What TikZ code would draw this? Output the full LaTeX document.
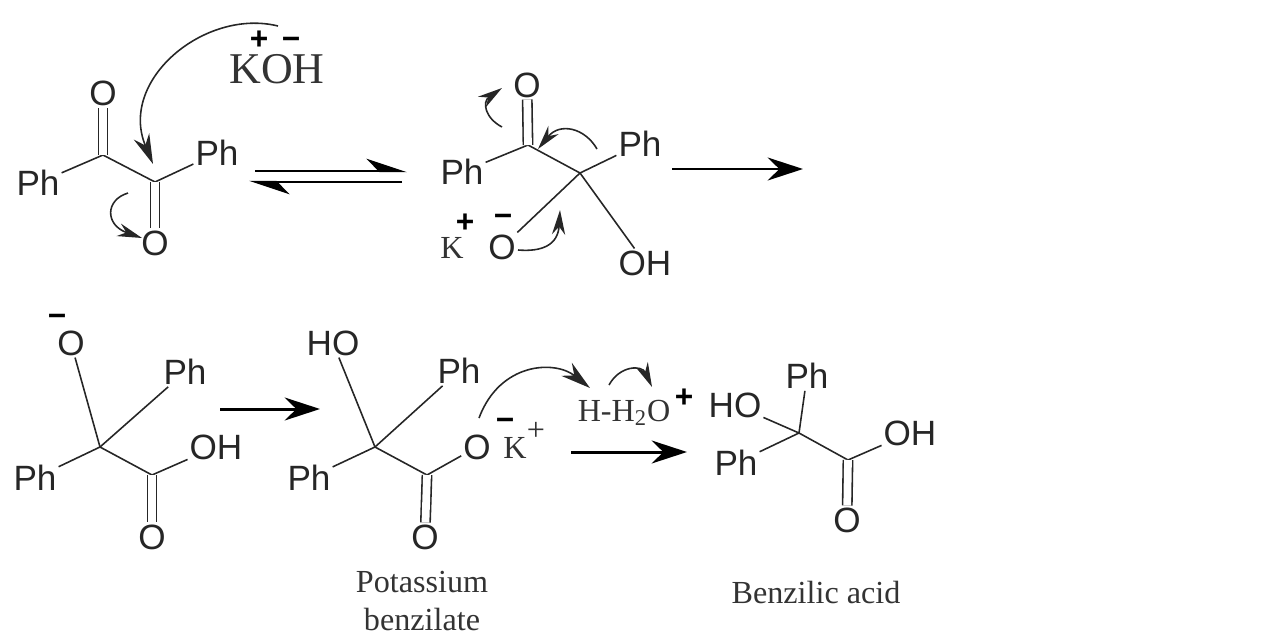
\documentclass[tikz,border=0pt]{standalone}
\usepackage{fontspec}
\setmainfont{Liberation Serif}
\newfontfamily\chemfont{Liberation Sans}
\usetikzlibrary{arrows.meta}
\tikzset{
    atom/.style={font=\chemfont\fontsize{20}{22}\selectfont, text=black!85, inner sep=1pt},
    serifbig/.style={font=\fontsize{25}{27}\selectfont, text=black!80, inner sep=0pt},
    serifsmall/.style={font=\fontsize{18.3}{20}\selectfont, text=black!80, inner sep=0pt},
    charge/.style={font=\chemfont\bfseries\fontsize{18}{20}\selectfont, inner sep=0pt},
    curly/.style={draw=black!85, line width=0.9pt, -{Stealth[length=14pt,width=7.5pt]}},
    bigcurly/.style={draw=black!85, line width=0.9pt, -{Stealth[length=17pt,width=9.5pt]}},
    straight/.style={draw=black, line width=1.7pt, -{Stealth[length=20pt,width=13pt]}},
    half/.style={draw=black, line width=1.4pt, -{Stealth[harpoon,length=21pt,width=14pt]}}
}
\begin{document}
\begin{tikzpicture}[x=0.02cm,y=-0.02cm]
            \useasboundingbox (0,0) rectangle (1276,640);

            \begin{scope}[every node/.style={atom}]
                \node (o1) at (103,93) {O};
                \node (ph1) at (38,183) {Ph};
                \node (ph2) at (217,153) {Ph};
                \node (o2) at (155,243) {O};
                \node (o3) at (527,85) {O};
                \node (ph3) at (462,172) {Ph};
                \node (ph4) at (640,144) {Ph};
                \node (oh1) at (645,263) {OH};
                \node (o4) at (502,247) {O};
                \node (o5) at (71,343) {O};
                \node (ph5) at (185,372) {Ph};
                \node (ph6) at (35,478) {Ph};
                \node (oh2) at (216,447) {OH};
                \node (o6) at (152,537) {O};
                \node (ho1) at (333,343) {HO};
                \node (ph7) at (459,371) {Ph};
                \node (ph8) at (309,478) {Ph};
                \node (o7) at (477,447) {O};
                \node (o8) at (425,537) {O};
                \node (ho2) at (735,405) {HO};
                \node (ph9) at (807,376) {Ph};
                \node (ph10) at (736,463) {Ph};
                \node (oh3) at (910,433) {OH};
                \node (o9) at (847,520) {O};
            \end{scope}

            \begin{scope}[every node/.style={serifbig}]
                \node (koh) at (277,69) {KOH};
            \end{scope}

            \begin{scope}[every node/.style={serifsmall}]
                \node (k1) at (452,248) {K};
                \node (k2) at (515,448) {K};
                \node (kplus) at (536,431) {+};
                \node (water) at (624,413) {H-H\textsubscript{2}O};
                \node (pot) at (422,582) {Potassium};
                \node (ben) at (422,619) {benzilate};
                \node (acid) at (816,592) {Benzilic acid};
            \end{scope}

            \begin{scope}[every node/.style={charge}]
                \node (p1) at (259,40) {+};
                \node (m1) at (291,43) {−};
                \node (p2) at (465,223) {+};
                \node (m2) at (503,220) {−};
                \node (m3) at (57,320) {−};
                \node (m4) at (505,424) {−};
                \node (p3) at (684,398) {+};
            \end{scope}

            \coordinate (c1) at (103,155);
            \coordinate (c2) at (155,182);
            \coordinate (c3) at (528,145);
            \coordinate (c4) at (580,173);
            \coordinate (c5) at (100,447);
            \coordinate (c6) at (152,475);
            \coordinate (c7) at (375,447);
            \coordinate (c8) at (427,475);
            \coordinate (c9) at (799,433);
            \coordinate (c10) at (848,460);

            \begin{scope}[every edge/.style={draw=black!85, line width=0.9pt}]
                \path [-] (c1) edge (ph1);
                \path [-] (c1) edge (c2);
                \path [-] (c2) edge (ph2);
                \path [-] (c3) edge (ph3);
                \path [-] (c3) edge (c4);
                \path [-] (c4) edge (ph4);
                \path [-] (c4) edge (oh1);
                \path [-] (c4) edge (o4);
                \path [-] (c5) edge (o5);
                \path [-] (c5) edge (ph5);
                \path [-] (c5) edge (ph6);
                \path [-] (c5) edge (c6);
                \path [-] (c6) edge (oh2);
                \path [-] (c7) edge (ho1);
                \path [-] (c7) edge (ph7);
                \path [-] (c7) edge (ph8);
                \path [-] (c7) edge (c8);
                \path [-] (c8) edge (o7);
                \path [-] (c9) edge (ho2);
                \path [-] (c9) edge (ph9);
                \path [-] (c9) edge (ph10);
                \path [-] (c9) edge (c10);
                \path [-] (c10) edge (oh3);
            \end{scope}

            \begin{scope}[every edge/.style={draw=black!85, line width=0.9pt, double=white, double distance=4.4pt}]
                \path [-] (c1) edge (o1);
                \path [-] (c2) edge (o2);
                \path [-] (c3) edge (o3);
                \path [-] (c6) edge (o6);
                \path [-] (c8) edge (o8);
                \path [-] (c10) edge (o9);
            \end{scope}

            \coordinate (s1) at (278,26);
            \coordinate (t1) at (153,164);
            \coordinate (s2) at (128,193);
            \coordinate (t2) at (142,238);
            \coordinate (s3) at (502,127);
            \coordinate (t3) at (502,88);
            \coordinate (s4) at (597,149);
            \coordinate (t4) at (538,149);
            \coordinate (s5) at (518,250);
            \coordinate (t5) at (560,210);
            \coordinate (s6) at (479,418);
            \coordinate (t6) at (590,388);
            \coordinate (s7) at (609,385);
            \coordinate (t7) at (652,387);

            \draw [bigcurly] (s1) .. controls (205,8) and (118,80) .. (t1);
            \draw [curly] (s2) .. controls (105,200) and (105,225) .. (t2);
            \draw [curly] (s3) .. controls (485,118) and (482,102) .. (t3);
            \draw [curly] (s4) .. controls (585,128) and (560,122) .. (t4);
            \draw [curly] (s5) .. controls (542,252) and (558,245) .. (t5);
            \draw [bigcurly] (s6) .. controls (500,362) and (555,360) .. (t6);
            \draw [curly] (s7) .. controls (620,365) and (642,365) .. (t7);

            \coordinate (eq1) at (255,171);
            \coordinate (eq2) at (407,171);
            \coordinate (eq3) at (402,182);
            \coordinate (eq4) at (249,182);
            \coordinate (a1) at (672,169);
            \coordinate (a2) at (803,169);
            \coordinate (a3) at (220,409);
            \coordinate (a4) at (320,409);
            \coordinate (a5) at (571,452);
            \coordinate (a6) at (687,452);

            \draw [half] (eq1) -- (eq2);
            \draw [half] (eq3) -- (eq4);
            \draw [straight] (a1) -- (a2);
            \draw [straight] (a3) -- (a4);
            \draw [straight] (a5) -- (a6);
        \end{tikzpicture}
\end{document}
